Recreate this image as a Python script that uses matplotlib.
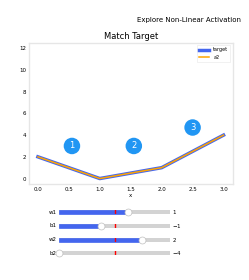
import matplotlib
matplotlib.use("Agg")
from matplotlib import pyplot as plt
from matplotlib.widgets import Slider

# data
x = [0, 1, 2, 3]
target = [2, 0, 1, 4]
a2 = [2, 0, 1, 4]
marks = ["1", "2", "3"]
mark_x = [0.55, 1.55, 2.5]
mark_y = [3.0, 3.0, 4.7]
slider_names = ["w1", "b1", "w2", "b2"]
slider_vals = [1, -1, 2, -4]

fig = plt.figure(figsize=(4.98, 5.6), dpi=50)
fig.text(0.76, 0.928, "Explore Non-Linear Activation", ha="center", va="center", fontsize=10)

ax = fig.add_axes([0.115, 0.343, 0.82, 0.504])
ax.plot(x, target, color="#4466ee", lw=5, label="target")
ax.plot(x, a2, color="orange", lw=2.2, label="a2")
for t, mx, my in zip(marks, mark_x, mark_y):
    ax.text(mx, my, t, color="white", fontsize=12, ha="center", va="center",
            bbox=dict(boxstyle="circle,pad=0.45", fc="#2196F3", ec="none"))
ax.set_ylim(-0.5, 12.5)
ax.set_yticks(range(0, 13, 2))
ax.set_title("Match Target", fontsize=12)
ax.set_xlabel("x", fontsize=8, labelpad=2)
ax.tick_params(length=0, labelsize=8, pad=4)
for s in ax.spines.values():
    s.set_color("#e6e6e6")
    s.set_linewidth(2)
ax.legend(loc="upper right", fontsize=7, handlelength=2.2, edgecolor="#e6e6e6", fancybox=False)

# sliders
sliders = []
for i, (name, v) in enumerate(zip(slider_names, slider_vals)):
    sax = fig.add_axes([0.237, 0.228 - i * 0.049, 0.446, 0.028])
    s = Slider(sax, name, -4, 4, valinit=0, color="#4466ee", initcolor="red")
    s.set_val(v)
    s.label.set_fontsize(8)
    s.valtext.set_fontsize(8)
    s.vline.set_linewidth(2)
    sliders.append(s)

fig.savefig("out.png", dpi=50)
